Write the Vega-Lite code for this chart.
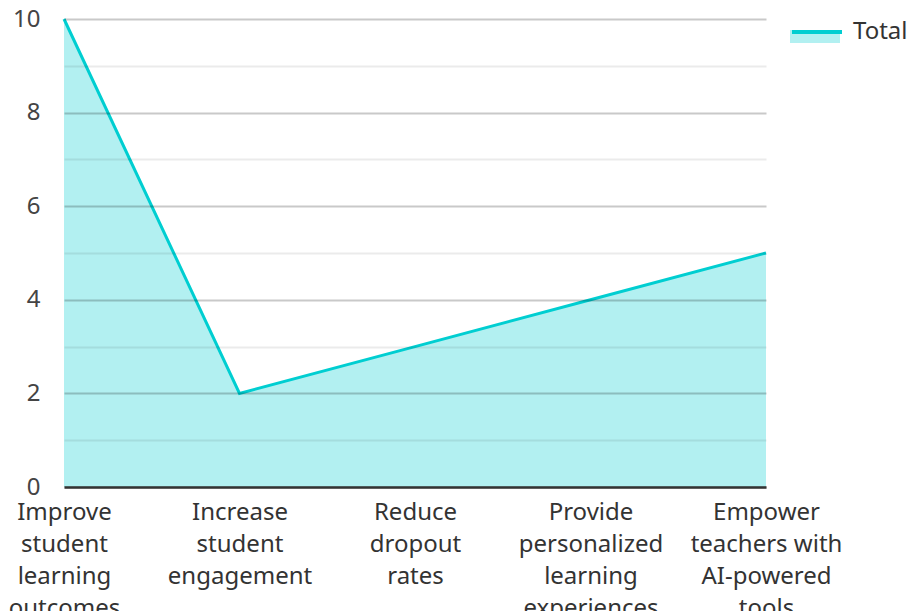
{
  "$schema": "https://vega.github.io/schema/vega-lite/v6.json",
  "width": 702,
  "height": 468,
  "autosize": "none",
  "padding": {"left": 64, "top": 19, "right": 141, "bottom": 124},
  "background": "white",
  "config": {
    "view": {"stroke": null},
    "font": "Noto Sans"
  },
  "data": {
    "values": [
      {"goal": "Improve student learning outcomes", "series": "Total", "count": 10},
      {"goal": "Increase student engagement", "series": "Total", "count": 2},
      {"goal": "Reduce dropout rates", "series": "Total", "count": 3},
      {"goal": "Provide personalized learning experiences", "series": "Total", "count": 4},
      {"goal": "Empower teachers with AI-powered tools", "series": "Total", "count": 5}
    ]
  },
  "encoding": {
    "x": {
      "field": "goal",
      "type": "nominal",
      "sort": null,
      "scale": {"type": "point", "padding": 0},
      "axis": {
        "title": null,
        "labelAngle": 0,
        "labelFont": "Noto Sans",
        "labelFontSize": 24,
        "labelColor": "#333333",
        "labelLineHeight": 32,
        "labelPadding": 13,
        "labelBaseline": "top",
        "ticks": false,
        "grid": false,
        "domainColor": "#333333",
        "domainWidth": 2.5,
        "labelOverlap": false,
        "labelLimit": 0,
        "labelExpr": "datum.label == 'Improve student learning outcomes' ? ['Improve','student','learning','outcomes'] : datum.label == 'Increase student engagement' ? ['Increase','student','engagement'] : datum.label == 'Reduce dropout rates' ? ['Reduce','dropout','rates'] : datum.label == 'Provide personalized learning experiences' ? ['Provide','personalized','learning','experiences'] : ['Empower','teachers with','AI-powered','tools']",
        "zindex": 2
      }
    },
    "y": {
      "field": "count",
      "type": "quantitative",
      "scale": {"domain": [0, 10], "nice": false},
      "axis": {
        "title": null,
        "values": [0, 1, 2, 3, 4, 5, 6, 7, 8, 9, 10],
        "labelExpr": "datum.value % 2 == 0 ? datum.label : ''",
        "labelFont": "Noto Sans",
        "labelFontSize": 24,
        "labelColor": "#444444",
        "labelPadding": 24,
        "ticks": false,
        "domain": false,
        "gridColor": "#000000",
        "gridOpacity": {"condition": {"test": "datum.value % 2 == 0", "value": 0.21}, "value": 0.08},
        "gridWidth": 2,
        "zindex": 1
      }
    }
  },
  "layer": [
    {
      "mark": {"type": "area", "fillOpacity": 0.3},
      "encoding": {
        "fill": {
          "field": "series",
          "type": "nominal",
          "scale": {"domain": ["Total"], "range": ["#00CED1"]},
          "legend": {
            "orient": "none",
            "legendX": 726,
            "legendY": -14,
            "title": null,
            "symbolType": "M-1,0H1V0.52H-1Z",
            "symbolSize": 2500,
            "symbolOpacity": 0.3,
            "symbolStrokeWidth": 0,
            "labelFontSize": 24,
            "labelFont": "Noto Sans",
            "labelColor": "#333333",
            "labelOpacity": 0,
            "labelOffset": 9
          }
        }
      }
    },
    {
      "mark": {"type": "line", "strokeWidth": 3},
      "encoding": {
        "stroke": {
          "field": "series",
          "type": "nominal",
          "scale": {"range": ["#00CED1"]},
          "legend": {
            "orient": "none",
            "legendX": 726,
            "legendY": -14,
            "title": null,
            "symbolType": "M-1,0H1",
            "symbolSize": 2500,
            "symbolStrokeWidth": 4,
            "labelFontSize": 24,
            "labelFont": "Noto Sans",
            "labelColor": "#333333",
            "labelOffset": 9
          }
        }
      }
    }
  ]
}
